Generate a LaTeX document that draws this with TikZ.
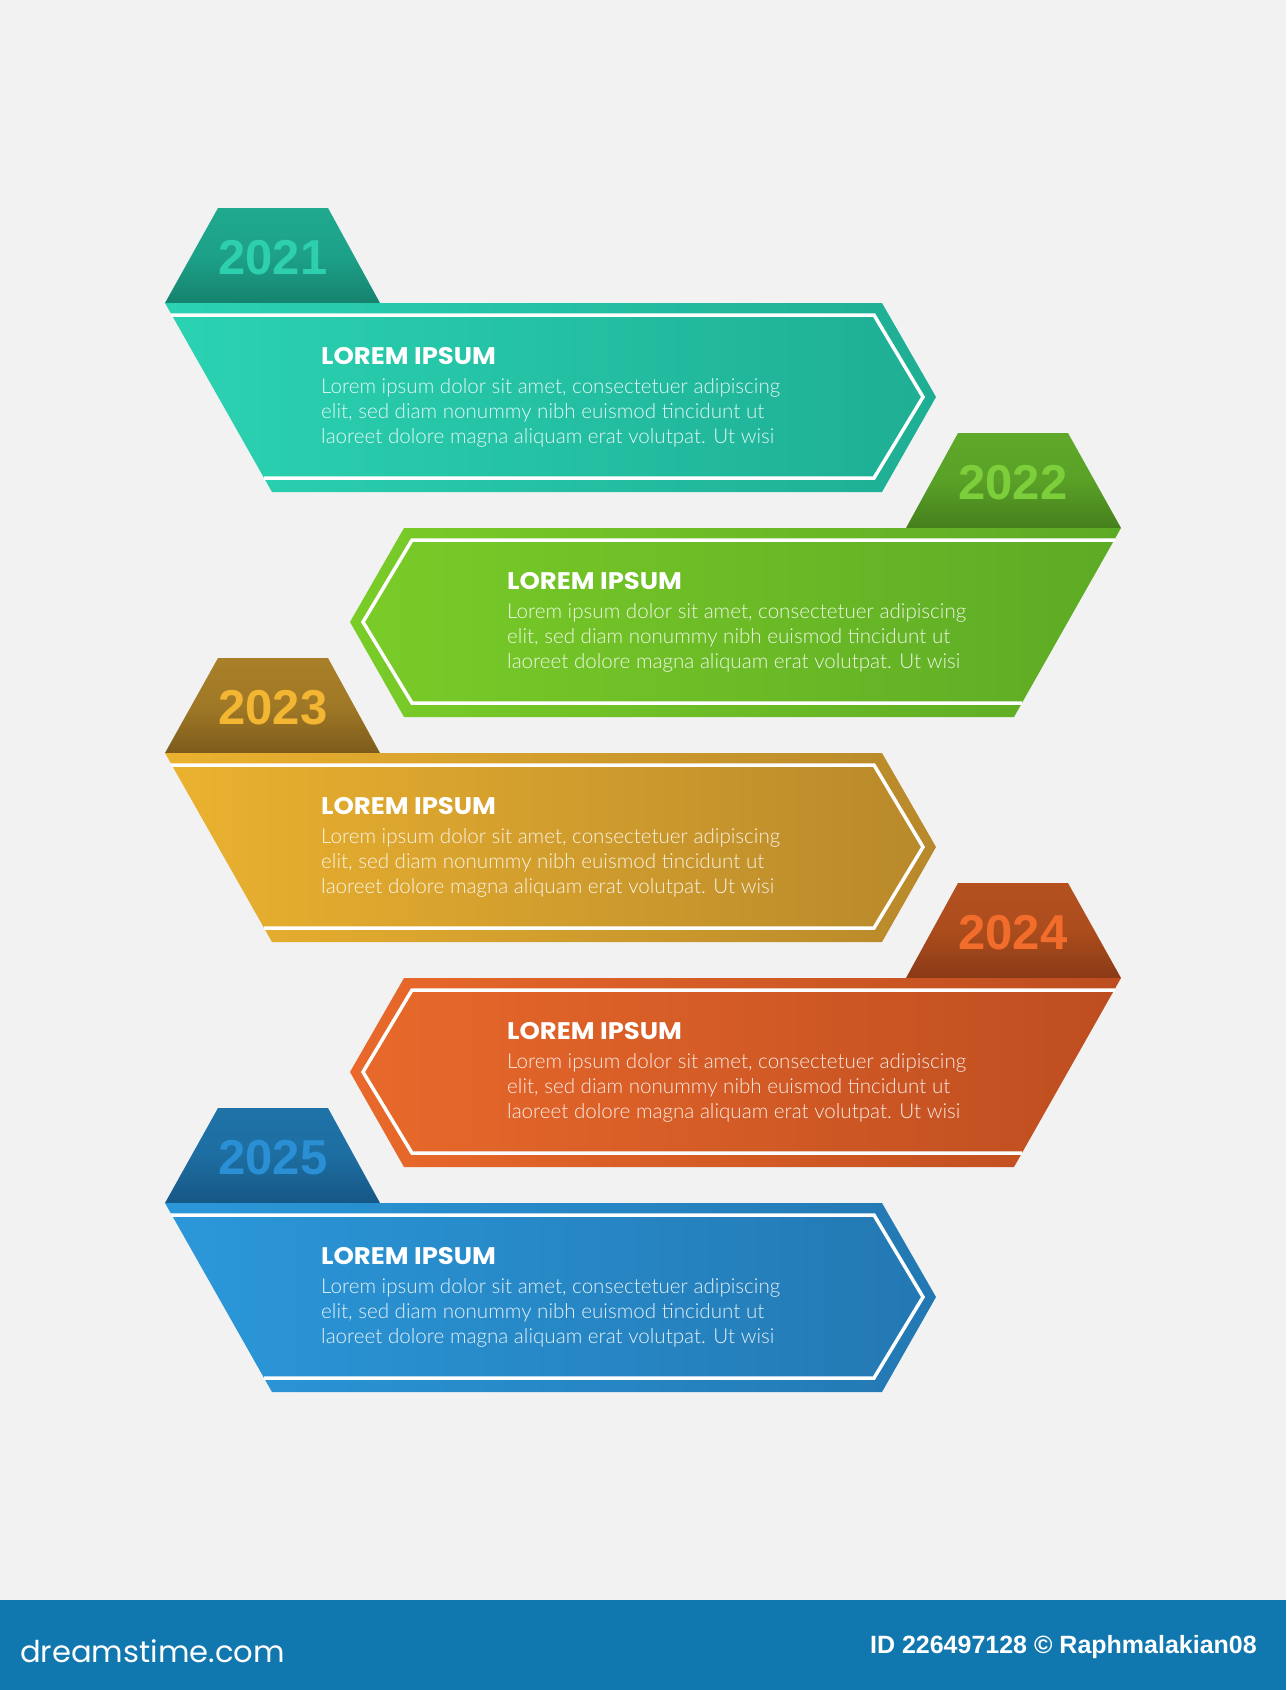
\documentclass[tikz,border=0pt]{standalone}
\usepackage{fontspec}
\setmainfont{Liberation Sans}
\newfontfamily\yearfont{Liberation Sans}
\newfontfamily\headfont{Poppins}
\newfontfamily\bodyfont{Lato Light}
\newfontfamily\logofont{Poppins}
\definecolor{bg}{HTML}{F2F2F2}
\definecolor{foot}{HTML}{1177AF}
\definecolor{c1L}{HTML}{2BD3B3}\definecolor{c1R}{HTML}{1EAE94}\definecolor{c1T}{HTML}{1FA98F}\definecolor{c1B}{HTML}{15826E}\definecolor{c1Y}{HTML}{2DCFAE}
\definecolor{c2L}{HTML}{7ACC28}\definecolor{c2R}{HTML}{5DAA25}\definecolor{c2T}{HTML}{5FA92A}\definecolor{c2B}{HTML}{457F1D}\definecolor{c2Y}{HTML}{7CCF3A}
\definecolor{c3L}{HTML}{EBB22F}\definecolor{c3R}{HTML}{B8892B}\definecolor{c3T}{HTML}{A98029}\definecolor{c3B}{HTML}{7C5B1B}\definecolor{c3Y}{HTML}{F2B632}
\definecolor{c4L}{HTML}{E9692B}\definecolor{c4R}{HTML}{BD4D20}\definecolor{c4T}{HTML}{B4511F}\definecolor{c4B}{HTML}{8A3A16}\definecolor{c4Y}{HTML}{F26D2B}
\definecolor{c5L}{HTML}{2B98DA}\definecolor{c5R}{HTML}{2378B2}\definecolor{c5T}{HTML}{1F73A8}\definecolor{c5B}{HTML}{165785}\definecolor{c5Y}{HTML}{2A8FD4}
\begin{document}
\begin{tikzpicture}[x=1pt,y=-1pt,
  yeartext/.style={inner sep=0pt,anchor=base,font=\yearfont\bfseries\fontsize{49}{49}\selectfont},
  headtext/.style={inner sep=0pt,anchor=base west,text=white,font=\headfont\bfseries\fontsize{24}{24}\selectfont},
  bodytext/.style={inner sep=0pt,anchor=base west,text=white,text opacity=0.88,font=\bodyfont\fontsize{20.6}{20.6}\selectfont},
  innerline/.style={draw=white,line width=3.5pt,line join=miter},
  foottext/.style={inner sep=0pt,text=white}]
\fill[bg] (0,0) rectangle (1286,1690);
\useasboundingbox (0,0) rectangle (1286,1690);
\foreach \i/\s/\yr/\tx in {1/1/2021/321, 2/-1/2022/507, 3/1/2023/321, 4/-1/2024/507, 5/1/2025/321}{
  \pgfmathsetmacro{\dy}{225*(\i-1)}
  % tab
  \shade[top color=c\i T,bottom color=c\i B,middle color=c\i T!80!c\i B]
    ({643+\s*(218-643)},{208+\dy}) -- ({643+\s*(328-643)},{208+\dy}) --
    ({643+\s*(380-643)},{303+\dy}) -- ({643+\s*(165-643)},{303+\dy}) -- cycle;
  % banner
  \shade[left color=c\i L,right color=c\i R]
    ({643+\s*(165-643)},{303+\dy}) -- ({643+\s*(882-643)},{303+\dy}) --
    ({643+\s*(936-643)},{397+\dy}) -- ({643+\s*(882-643)},{492+\dy}) --
    ({643+\s*(272-643)},{492+\dy}) -- cycle;
  % inner white outline
  \draw[innerline]
    ({643+\s*(171-643)},{315+\dy}) -- ({643+\s*(874-643)},{315+\dy}) --
    ({643+\s*(923-643)},{397+\dy}) -- ({643+\s*(874-643)},{478+\dy}) --
    ({643+\s*(264-643)},{478+\dy});
  % texts
  \node[yeartext,text=c\i Y] (year\i) at ({643+\s*(273-643)},{274+\dy}) {\yr};
  \node[headtext] (head\i) at (\tx,{364+\dy}) {\scalebox{1.08}[1]{LOREM IPSUM}};
  \node[bodytext] (bodya\i) at (\tx,{393+\dy}) {Lorem ipsum dolor sit amet, consectetuer adipiscing};
  \node[bodytext] (bodyb\i) at (\tx,{418+\dy}) {elit, sed diam nonummy nibh euismod tincidunt ut};
  \node[bodytext] (bodyc\i) at (\tx,{443+\dy}) {laoreet dolore magna aliquam erat volutpat. Ut wisi};
}
% footer
\fill[foot] (0,1600) rectangle (1286,1690);
\node[foottext,anchor=base west,font=\logofont\fontsize{30}{30}\selectfont] (logo) at (20,1662) {\scalebox{1.02}[1]{dreamstime.com}};
\node[foottext,anchor=base east,font=\yearfont\bfseries\fontsize{25}{25}\selectfont] (credit) at (1257,1653) {ID 226497128 © Raphmalakian08};
\end{tikzpicture}
\end{document}
